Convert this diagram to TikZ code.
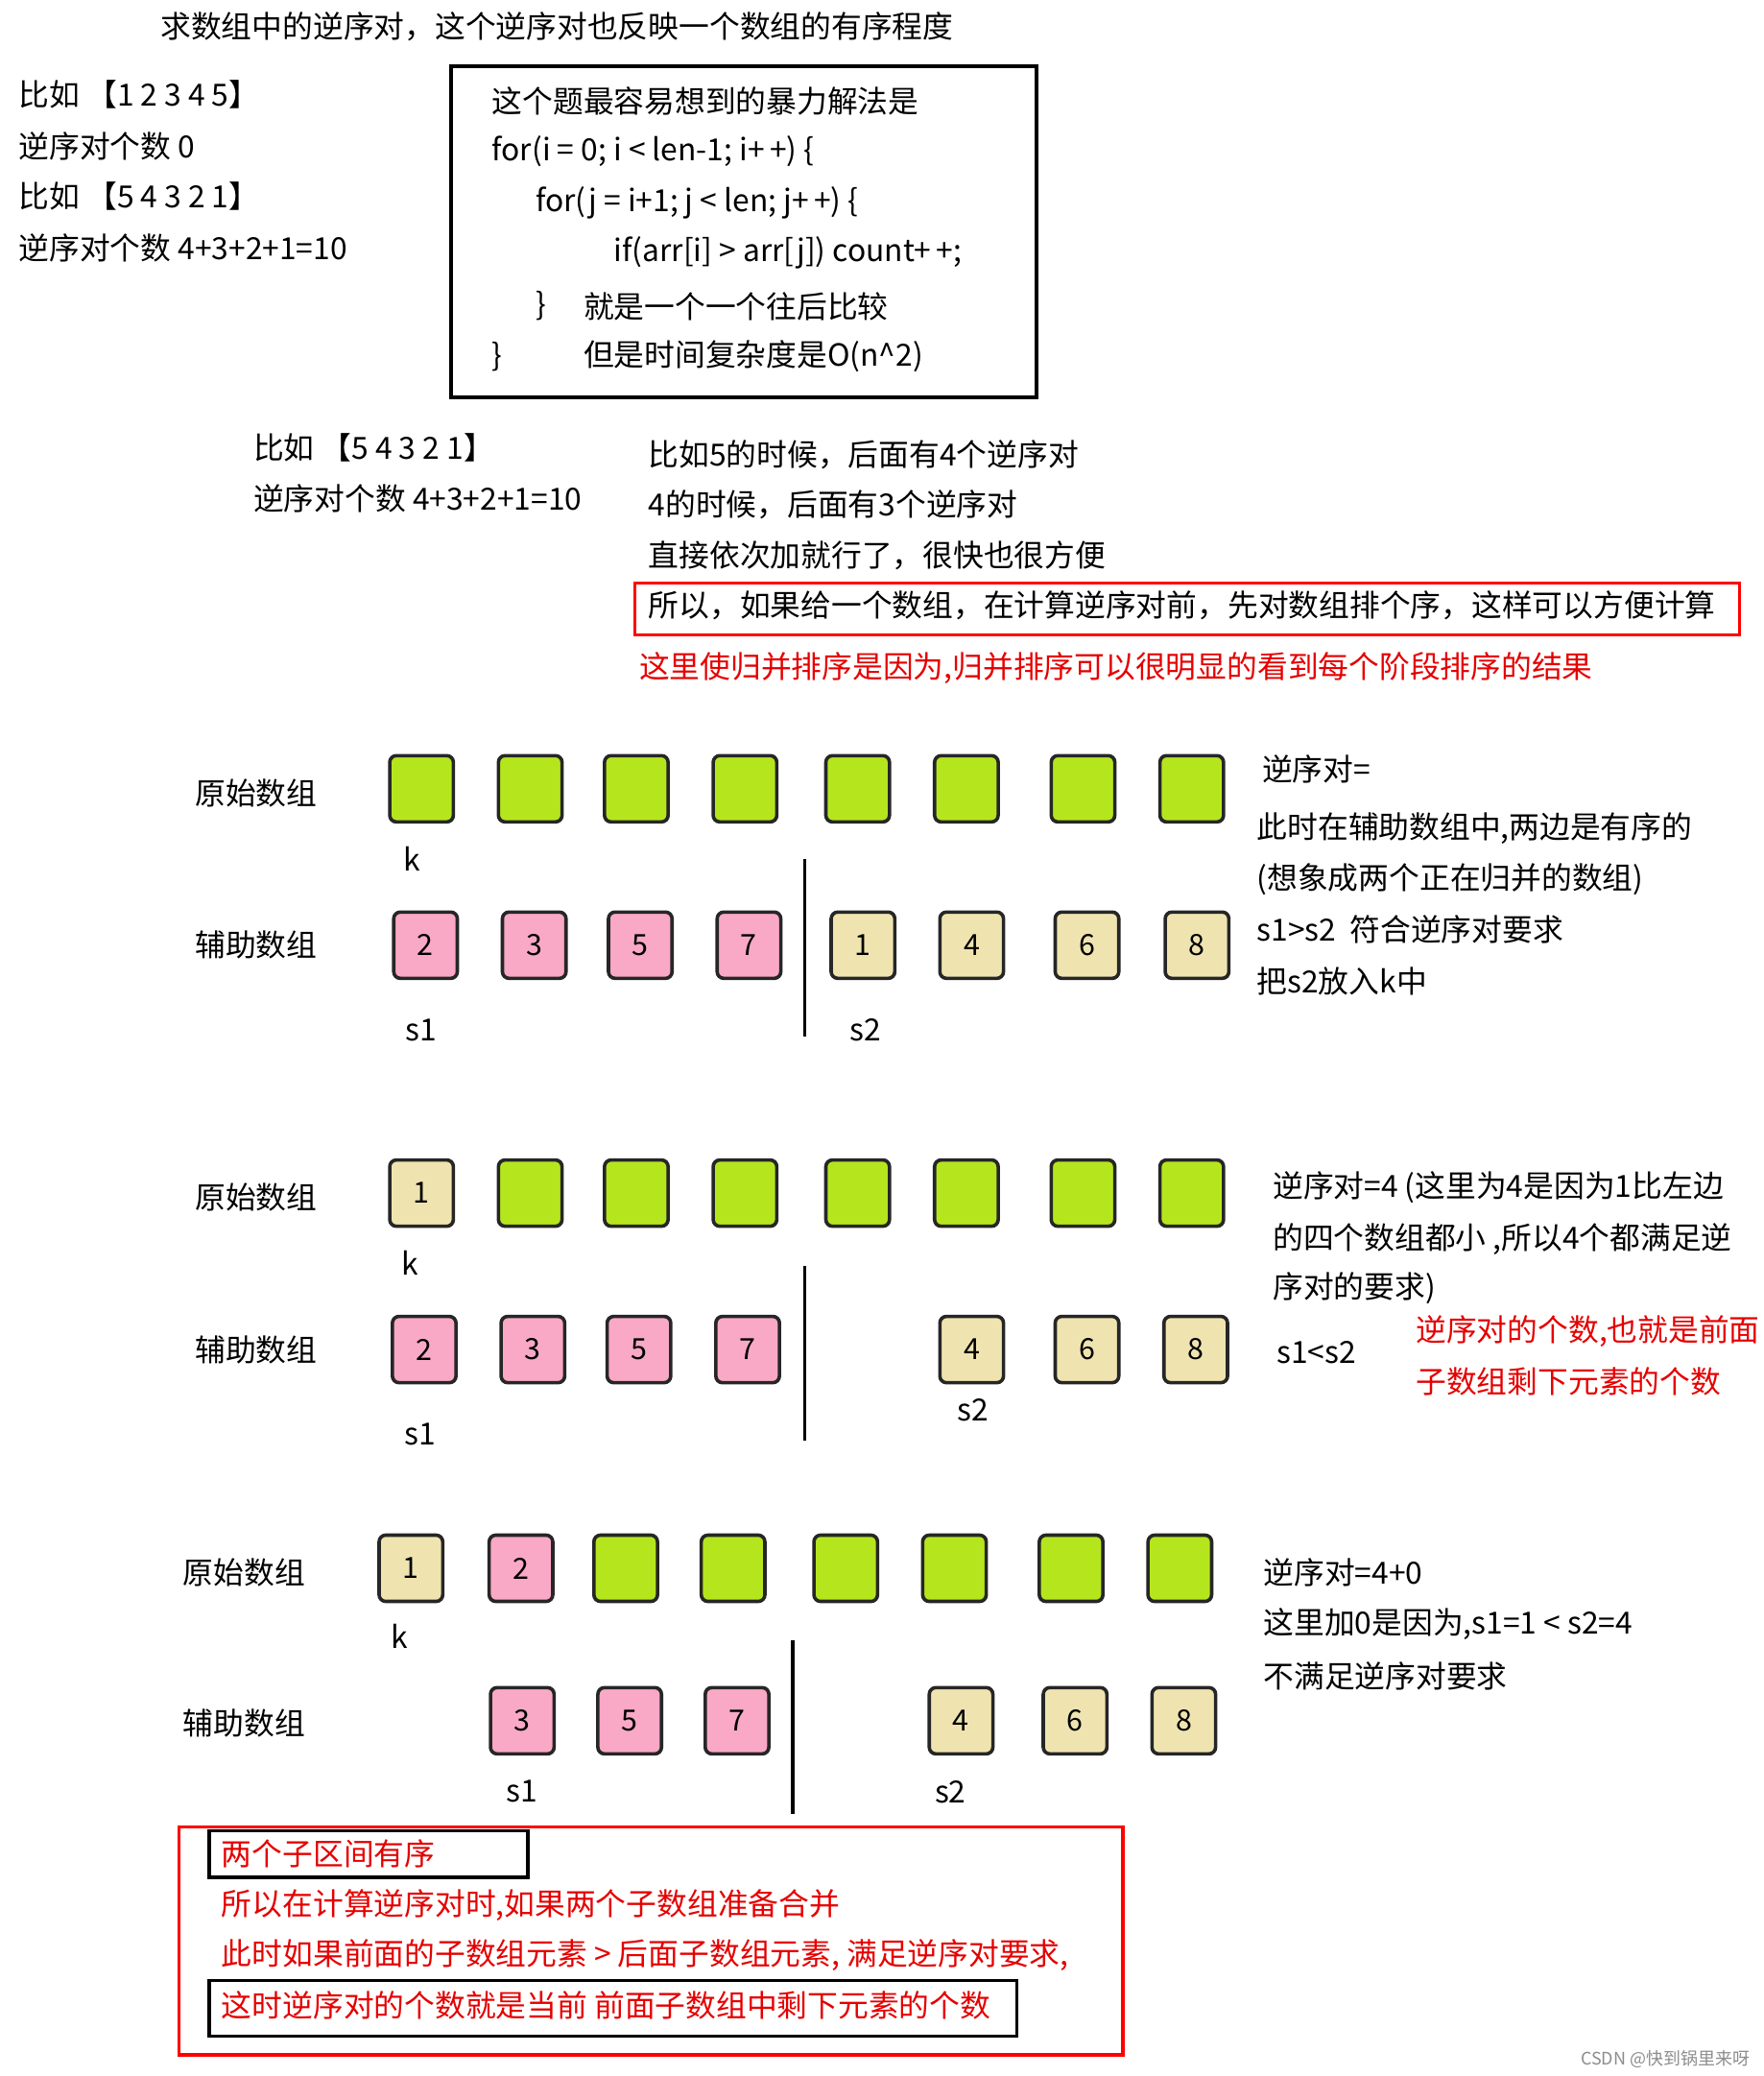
\documentclass[tikz,border=0pt]{standalone}
\usepackage{fontspec}
\setmainfont{Noto Sans CJK SC}
\begin{document}
\begin{tikzpicture}[x=1pt,y=-1pt,
  t/.style={anchor=west,inner sep=0pt,font=\fontsize{23}{27}\selectfont},
  rt/.style={t,text=red!90!black},
  cell/.style={draw=black!85,line width=2.6pt,rounded corners=5pt,minimum width=48pt,minimum height=50pt,inner sep=0pt,font=\fontsize{22}{26}\selectfont},
  g/.style={cell,fill=green1},
  p/.style={cell,fill=pink1},
  b/.style={cell,fill=beige1},
  bar/.style={line width=2.4pt}]
\definecolor{green1}{HTML}{B5E61D}
\definecolor{pink1}{HTML}{F9A8C6}
\definecolor{beige1}{HTML}{EFE4B0}
\useasboundingbox[fill=white] (0,0) rectangle (1330,1566);
% top
\node[t] (title) at (121,20) {求数组中的逆序对，这个逆序对也反映一个数组的有序程度};
\node[t] (l1) at (14,71) {比如 【1 2 3 4 5】};
\node[t] (l2) at (14,110) {逆序对个数 0};
\node[t] (l3) at (14,148) {比如 【5 4 3 2 1】};
\node[t] (l4) at (14,187) {逆序对个数 4+3+2+1=10};
\draw[line width=2.8pt] (340,50) rectangle (782,300);
\node[t] (c1) at (371,76) {这个题最容易想到的暴力解法是};
\node[t] (c2) at (371,114) {for(i = 0; i < len-1; i+\,+) \{};
\node[t] (c3) at (404,153) {for(j = i+1; j < len; j+\,+) \{};
\node[t] (c4) at (463,191) {if(arr[i] > arr[j]) count+\,+;};
\node[t] (c5) at (404,231) {\}};
\node[t] (c5b) at (440,231) {就是一个一个往后比较};
\node[t] (c6) at (371,269) {\}};
\node[t] (c6b) at (440,269) {但是时间复杂度是O(n\^{}2)};
\node[t] (m1) at (191,338) {比如 【5 4 3 2 1】};
\node[t] (m2) at (191,376) {逆序对个数 4+3+2+1=10};
\node[t] (m3) at (489,343) {比如5的时候，后面有4个逆序对};
\node[t] (m4) at (489,381) {4的时候，后面有3个逆序对};
\node[t] (m5) at (489,419) {直接依次加就行了，很快也很方便};
\draw[red,line width=2.4pt] (479,440) rectangle (1312,479);
\node[t] (m6) at (489,457) {所以，如果给一个数组，在计算逆序对前，先对数组排个序，这样可以方便计算};
\node[rt] (m7) at (482,504) {这里使归并排序是因为,归并排序可以很明显的看到每个阶段排序的结果};
% row 1
\node[t] (o1) at (147,598) {原始数组};
\node[t] (a1) at (147,713) {辅助数组};
\foreach \x [count=\i] in {318,400,480,562,647,729,817,899} \node[g] (r1o\i) at (\x,595) {};
\node[t] at (304,648) (k1) {k};
\node[p] (r1a1) at (321,713) {2};
\node[p] (r1a2) at (403,713) {3};
\node[p] (r1a3) at (483,713) {5};
\node[p] (r1a4) at (565,713) {7};
\node[b] (r1a5) at (651,713) {1};
\node[b] (r1a6) at (733,713) {4};
\node[b] (r1a7) at (820,713) {6};
\node[b] (r1a8) at (903,713) {8};
\coordinate (d1a) at (607,648); \coordinate (d1b) at (607,782);
\draw[bar] (d1a) -- (d1b);
\node[t] (s11) at (306,777) {s1};
\node[t] (s21) at (641,777) {s2};
\node[t] (n1) at (952,580) {逆序对=};
\node[t] (n2) at (948,625) {此时在辅助数组中,两边是有序的};
\node[t] (n3) at (948,663) {(想象成两个正在归并的数组)};
\node[t] (n4) at (948,701) {s1>s2\ \ 符合逆序对要求};
\node[t] (n5) at (948,740) {把s2放入k中};
% row 2
\node[t] (o2) at (147,903) {原始数组};
\node[t] (a2) at (147,1018) {辅助数组};
\node[b] (r2o1) at (318,900) {1};
\foreach \x [count=\i from 2] in {400,480,562,647,729,817,899} \node[g] (r2o\i) at (\x,900) {};
\node[t] at (303,953) (k2) {k};
\node[p] (r2a1) at (320,1018) {2};
\node[p] (r2a2) at (402,1018) {3};
\node[p] (r2a3) at (482,1018) {5};
\node[p] (r2a4) at (564,1018) {7};
\node[b] (r2a6) at (733,1018) {4};
\node[b] (r2a7) at (820,1018) {6};
\node[b] (r2a8) at (902,1018) {8};
\coordinate (d2a) at (607,955); \coordinate (d2b) at (607,1087);
\draw[bar] (d2a) -- (d2b);
\node[t] (s12) at (305,1082) {s1};
\node[t] (s22) at (722,1064) {s2};
\node[t] (q1) at (960,896) {逆序对=4 (这里为4是因为1比左边};
\node[t] (q2) at (960,935) {的四个数组都小 ,所以4个都满足逆};
\node[t] (q3) at (960,972) {序对的要求)};
\node[t] (q4) at (963,1020) {s1<s2};
\node[rt] (q5) at (1068,1004) {逆序对的个数,也就是前面};
\node[rt] (q6) at (1068,1042) {子数组剩下元素的个数};
% row 3
\node[t] (o3) at (138,1186) {原始数组};
\node[t] (a3) at (138,1300) {辅助数组};
\node[b] (r3o1) at (310,1183) {1};
\node[p] (r3o2) at (393,1183) {2};
\foreach \x [count=\i from 3] in {472,553,638,720,808,890} \node[g] (r3o\i) at (\x,1183) {};
\node[t] at (295,1234) (k3) {k};
\node[p] (r3a2) at (394,1298) {3};
\node[p] (r3a3) at (475,1298) {5};
\node[p] (r3a4) at (556,1298) {7};
\node[b] (r3a6) at (725,1298) {4};
\node[b] (r3a7) at (811,1298) {6};
\node[b] (r3a8) at (893,1298) {8};
\coordinate (d3a) at (598,1237); \coordinate (d3b) at (598,1368);
\draw[bar] (d3a) -- (d3b);
\node[t] (s13) at (382,1351) {s1};
\node[t] (s23) at (705,1352) {s2};
\node[t] (u1) at (953,1186) {逆序对=4+0};
\node[t] (u2) at (953,1225) {这里加0是因为,s1=1 < s2=4};
\node[t] (u3) at (953,1264) {不满足逆序对要求};
% bottom
\draw[red,line width=2.4pt] (135,1378) rectangle (847,1550);
\draw[line width=2.6pt] (158,1381) rectangle (398,1416);
\node[rt] (v1) at (167,1398) {两个子区间有序};
\node[rt] (v2) at (167,1437) {所以在计算逆序对时,如果两个子数组准备合并};
\node[rt] (v3) at (167,1475) {此时如果前面的子数组元素 > 后面子数组元素, 满足逆序对要求,};
\draw[line width=2.6pt] (158,1494) rectangle (767,1536);
\node[rt] (v4) at (167,1513) {这时逆序对的个数就是当前 前面子数组中剩下元素的个数};
\node[anchor=east,inner sep=0pt,text=black!45,font=\fontsize{13}{15}\selectfont] (wm) at (1320,1553) {CSDN @快到锅里来呀};
\end{tikzpicture}
\end{document}
